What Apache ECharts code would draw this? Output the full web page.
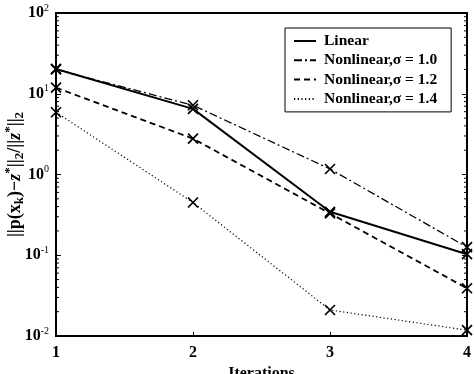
<!DOCTYPE html>
<html><head><meta charset="utf-8">
<script src="https://cdn.jsdelivr.net/npm/echarts@6/dist/echarts.min.js"></script>
<style>html,body{margin:0;padding:0;background:#fff}#c{width:474px;height:374px}</style>
</head><body><div id="c"></div>
<script>
var iterations = [1, 2, 3, 4];
var linear = [20.3, 6.5, 0.345, 0.103];
var nonlin10 = [20.0, 7.2, 1.17, 0.126];
var nonlin12 = [11.9, 2.78, 0.33, 0.039];
var nonlin14 = [5.9, 0.45, 0.021, 0.0118];
var seriesNames = ['Linear', 'Nonlinear,\u03c3 = 1.0', 'Nonlinear,\u03c3 = 1.2', 'Nonlinear,\u03c3 = 1.4'];
var yTickValues = [0.01, 0.1, 1, 10, 100];

var FONT = '"Liberation Serif", "Times New Roman", serif';
var xMark = 'path://M0,0L10,10M10,0L0,10';

// minor tick positions on the log axis (2..9 in each decade)
var minorTicks = [];
for (var d = 0; d < yTickValues.length - 1; d++) {
  for (var m = 2; m <= 9; m++) minorTicks.push([1, yTickValues[d] * m]);
}

function pair(arr) { return iterations.map(function (x, i) { return [x, arr[i]]; }); }

function lineSeries(name, arr, type, width) {
  return {
    name: name, type: 'line', data: pair(arr),
    symbol: xMark, symbolSize: 10, showSymbol: true,
    itemStyle: { color: '#000', borderColor: '#000', borderWidth: 1.7 },
    lineStyle: { color: '#000', width: width, type: type },
    emphasis: { disabled: true }, animation: false, z: 3
  };
}

var chart = echarts.init(document.getElementById('c'), null, { renderer: 'canvas' });
chart.setOption({
  animation: false,
  backgroundColor: '#fff',
  grid: { left: 56, right: 7, top: 13, bottom: 38, show: true, borderColor: '#000', borderWidth: 2, containLabel: false, outerBoundsMode: 'none' },
  legend: {
    orient: 'vertical', left: 285, top: 28,
    data: seriesNames,
    backgroundColor: '#fff', borderColor: '#000', borderWidth: 1,
    padding: [5, 14, 5, 8], itemGap: 3.3, itemWidth: 22, itemHeight: 14,
    textStyle: { fontFamily: FONT, fontWeight: 'bold', fontSize: 15.5, color: '#000', lineHeight: 14, padding: [0, 0, 0, 3] },
    itemStyle: { opacity: 0 },
    selectedMode: false
  },
  xAxis: {
    type: 'value', min: 1, max: 4, interval: 1,
    name: 'Iterations', nameLocation: 'middle', nameGap: 30, nameMoveOverlap: false,
    nameTextStyle: { fontFamily: FONT, fontWeight: 'bold', fontSize: 16, color: '#000' },
    axisLine: { show: false },
    axisTick: { inside: true, length: 4, lineStyle: { color: '#000', width: 1 } },
    axisLabel: { fontFamily: FONT, fontWeight: 'bold', fontSize: 16, color: '#000', margin: 9 },
    splitLine: { show: false }
  },
  yAxis: [{
    type: 'log', logBase: 10, min: 0.01, max: 100,
    name: '{t|||p(x}{sub|k}{t|)\u2212}{iz|z}{sup|*}{t|||}{sub|2}{t|/||}{iz|z}{sup|*}{t|||}{sub|2}',
    nameLocation: 'middle', nameGap: 29, nameRotate: 90, nameMoveOverlap: false,
    nameTextStyle: {
      rich: {
        t: { fontFamily: FONT, fontWeight: 'bold', fontSize: 18, color: '#000' },
        iz: { fontFamily: FONT, fontWeight: 'bold', fontStyle: 'italic', fontSize: 18, color: '#000' },
        sub: { fontFamily: FONT, fontWeight: 'bold', fontSize: 13, color: '#000', padding: [10, 0, 0, 0] },
        sup: { fontFamily: FONT, fontWeight: 'bold', fontSize: 13, color: '#000', padding: [0, 0, 11, 0] }
      }
    },
    axisLine: { show: false },
    axisTick: { inside: true, length: 5, lineStyle: { color: '#000', width: 1 } },
    axisLabel: {
      margin: 7,
      formatter: function (v) { return '{b|10}{s|' + Math.round(Math.log10(v)) + '}'; },
      rich: {
        b: { fontFamily: FONT, fontWeight: 'bold', fontSize: 16, color: '#000' },
        s: { fontFamily: FONT, fontSize: 10, color: '#000', padding: [0, 0, 10, 0] }
      }
    },
    splitLine: { show: false }
  }, {
    type: 'log', logBase: 10, min: 0.01, max: 100, position: 'right',
    axisLine: { show: false },
    axisTick: { inside: true, length: 5, lineStyle: { color: '#000', width: 1 } },
    axisLabel: { show: false }, splitLine: { show: false }
  }],
  series: [
    lineSeries(seriesNames[0], linear, 'solid', 2),
    lineSeries(seriesNames[1], nonlin10, [8, 3, 2, 3], 1.3),
    lineSeries(seriesNames[2], nonlin12, [6, 4], 1.8),
    lineSeries(seriesNames[3], nonlin14, [1.2, 2.5], 1.2),
    {
      type: 'custom', data: minorTicks, silent: true, z: 4,
      renderItem: function (params, api) {
        var p = api.coord([1, api.value(1)]);
        var cs = params.coordSys;
        return { type: 'group', children: [
          { type: 'line', shape: { x1: cs.x, y1: p[1], x2: cs.x + 3, y2: p[1] }, style: { stroke: '#000', lineWidth: 1 } },
          { type: 'line', shape: { x1: cs.x + cs.width, y1: p[1], x2: cs.x + cs.width - 3, y2: p[1] }, style: { stroke: '#000', lineWidth: 1 } }
        ] };
      }
    }
  ]
});
</script></body></html>
